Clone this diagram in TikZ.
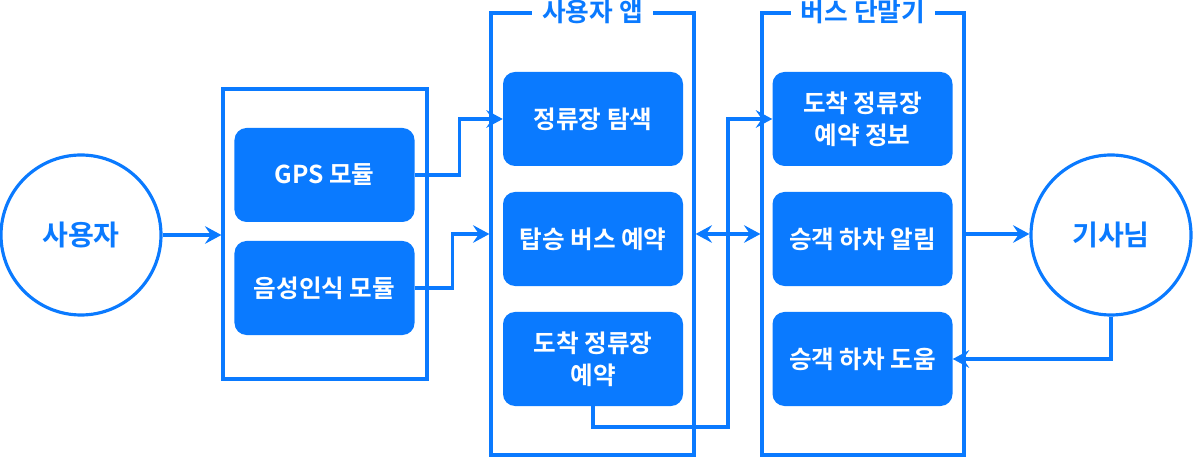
\documentclass[tikz,border=0pt]{standalone}
\usepackage{fontspec}
\setmainfont{Noto Sans CJK KR}[BoldFont={Noto Sans CJK KR Bold}]
\usetikzlibrary{arrows.meta, positioning}
\definecolor{appblue}{RGB}{10,122,255}

\begin{document}
\begin{tikzpicture}[x=0.03cm, y=-0.03cm,
    task/.style={fill=appblue, text=white, rounded corners=0.36cm,
        minimum width=5.4cm, minimum height=2.82cm, align=center,
        font=\fontsize{21}{27}\selectfont\bfseries},
    group/.style={draw=appblue, line width=2.7pt, minimum height=13.26cm},
    actor/.style={circle, draw=appblue, line width=2.7pt, minimum size=4.8cm,
        text=appblue, font=\fontsize{24}{26}\selectfont\bfseries},
    heading/.style={fill=white, text=appblue, inner xsep=0.3cm, inner ysep=2pt,
        font=\fontsize{22}{24}\selectfont\bfseries},
    flow/.style={draw=appblue, line width=2.7pt,
        -{Stealth[length=14pt, width=15pt, inset=5pt]}},
    both/.style={flow, {Stealth[length=14pt, width=15pt, inset=5pt]}-{Stealth[length=14pt, width=15pt, inset=5pt]}}]
    \useasboundingbox (0,0) rectangle (1194,458);

    % Actors
    \node[actor] (user) at (81,235) {사용자};
    \node[actor] (driver) at (1111,235) {기사님};

    % Input modules
    \node[group, minimum width=6.12cm, minimum height=8.7cm] (sensor) at (325,234) {};
    \node[task] (gps) at (324.5,175) {GPS 모듈};
    \node[task] (voice) at (324.5,288) {음성인식 모듈};

    % User app
    \node[group, minimum width=6.09cm] (app) at (592.5,234) {};
    \node[heading] (apptitle) at (app.north) {사용자 앱};
    \node[task] (search) at (593,119) {정류장 탐색};
    \node[task] (book) at (593,239) {탑승 버스 예약};
    \node[task] (dest) at (593,359) {도착 정류장\\예약};

    % Bus terminal
    \node[group, minimum width=6.06cm] (term) at (863,234) {};
    \node[heading] (termtitle) at (term.north) {버스 단말기};
    \node[task] (info) at (862.5,119) {도착 정류장\\예약 정보};
    \node[task] (alert) at (862.5,239) {승객 하차 알림};
    \node[task] (help) at (862.5,359) {승객 하차 도움};

    % Connectors
    \coordinate (bend) at (728,427);
    \draw[flow] (user.east) -- (sensor.west |- user.east);
    \draw[flow] (gps.east) -- ++(45,0) |- (search.west);
    \draw[flow] (voice.east) -- ++(38,0) |- (app.west);
    \draw[both] (app.east) -- (term.west);
    \draw[flow] (dest.south) |- (bend) |- (info.west);
    \draw[flow] (term.east) -- (driver.west |- term.east);
    \draw[flow] (driver.south) |- (help.east);
\end{tikzpicture}
\end{document}
